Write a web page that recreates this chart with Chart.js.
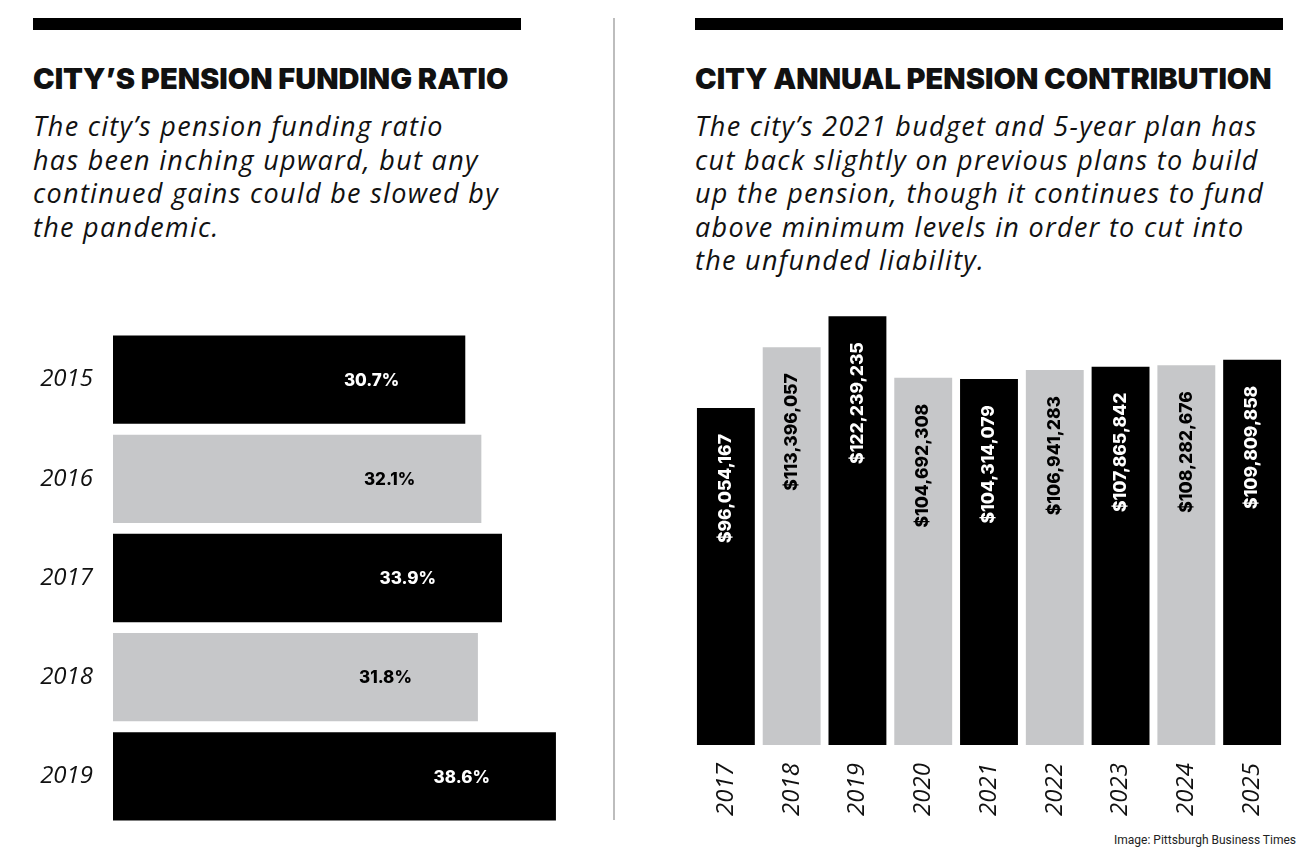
<!DOCTYPE html>
<html>
<head>
<meta charset="utf-8">
<script src="https://cdn.jsdelivr.net/npm/chart.js@4"></script>
<style>
  html, body { margin: 0; padding: 0; background: #fff; }
  body { width: 1300px; height: 852px; position: relative; overflow: hidden; font-family: "Inter", "Roboto", sans-serif; }
  .rule { position: absolute; top: 18px; height: 12px; background: #000; }
  .divider { position: absolute; left: 613px; top: 18px; width: 2px; height: 802px; background: #bdbdbd; }
  .title { position: absolute; top: 61px; font-weight: 900; font-size: 29px; letter-spacing: 0px; color: #111; white-space: nowrap; }
  .sub { position: absolute; top: 109px; font-family: "Open Sans", sans-serif; font-style: italic; font-size: 27px; letter-spacing: 1.3px; line-height: 33.5px; color: #111; white-space: nowrap; }
  .credit { position: absolute; right: 4px; top: 833px; font-family: "Roboto", sans-serif; font-size: 12px; color: #222; }
  canvas { position: absolute; }
</style>
</head>
<body>
<div class="rule" style="left:33px;width:488px"></div>
<div class="rule" style="left:695px;width:588px"></div>
<div class="divider"></div>

<div class="title" style="left:33px">CITY’S PENSION FUNDING RATIO</div>
<div class="sub" style="left:33px">The city’s pension funding ratio<br>has been inching upward, but any<br>continued gains could be slowed by<br>the pandemic.</div>

<div class="title" style="left:695px">CITY ANNUAL PENSION CONTRIBUTION</div>
<div class="sub" style="left:695px">The city’s 2021 budget and 5-year plan has<br>cut back slightly on previous plans to build<br>up the pension, though it continues to fund<br>above minimum levels in order to cut into<br>the unfunded liability.</div>

<div class="credit">Image: Pittsburgh Business Times</div>

<canvas id="ratioChart" style="left:0px;top:330px;width:572px;height:496px" width="572" height="496"></canvas>
<canvas id="contribChart" style="left:693px;top:289px;width:592px;height:540px" width="592" height="540"></canvas>

<script>
// funding ratio (%)
const ratioYears = ["2015", "2016", "2017", "2018", "2019"];
const ratioValues = [30.7, 32.1, 33.9, 31.8, 38.6];

// annual pension contribution ($)
const contribYears = ["2017", "2018", "2019", "2020", "2021", "2022", "2023", "2024", "2025"];
const contribValues = [96054167, 113396057, 122239235, 104692308, 104314079, 106941283, 107865842, 108282676, 109809858];

const BLACK = "#000000";
const GRAY = "#c6c7c9";

function altColors(n) {
    return Array.from({ length: n }, (_, i) => i % 2 === 0 ? BLACK : GRAY);
}

// labels drawn inside the bars
const ratioLabels = {
    id: "ratioLabels",
    afterDatasetsDraw(chart) {
        const ctx = chart.ctx;
        const meta = chart.getDatasetMeta(0);
        ctx.save();
        ctx.font = "800 17px Inter, sans-serif";
        ctx.textAlign = "right";
        ctx.textBaseline = "middle";
        meta.data.forEach((bar, i) => {
            ctx.fillStyle = i % 2 === 0 ? "#fff" : "#000";
            ctx.fillText(ratioValues[i].toFixed(1) + "%", bar.x - 66, bar.y + 1);
        });
        ctx.restore();
    }
};

const contribLabels = {
    id: "contribLabels",
    afterDatasetsDraw(chart) {
        const ctx = chart.ctx;
        const meta = chart.getDatasetMeta(0);
        ctx.save();
        ctx.font = "800 17.5px Inter, sans-serif";
        ctx.textAlign = "right";
        ctx.textBaseline = "middle";
        meta.data.forEach((bar, i) => {
            ctx.save();
            ctx.translate(bar.x, bar.y + 26);
            ctx.rotate(-Math.PI / 2);
            ctx.fillStyle = i % 2 === 0 ? "#fff" : "#000";
            ctx.fillText("$" + contribValues[i].toLocaleString("en-US"), 0, 0);
            ctx.restore();
        });
        ctx.restore();
    }
};

new Chart(document.getElementById("ratioChart"), {
    type: "bar",
    data: {
        labels: ratioYears,
        datasets: [{
            data: ratioValues,
            backgroundColor: altColors(ratioValues.length),
            borderWidth: 0,
            barPercentage: 1,
            categoryPercentage: 0.89
        }]
    },
    options: {
        indexAxis: "y",
        responsive: false,
        animation: false,
        layout: { padding: 0 },
        plugins: { legend: { display: false }, tooltip: { enabled: false } },
        scales: {
            x: { display: false, min: 0, max: 40 },
            y: {
                grid: { display: false },
                border: { display: false },
                ticks: {
                    color: "#111",
                    padding: 12,
                    font: { family: "Open Sans", style: "italic", size: 24 }
                },
                afterFit(scale) {
                    scale.width = 113;
                    scale.paddingTop = 0;
                    scale.paddingBottom = 0;
                }
            }
        }
    },
    plugins: [ratioLabels]
});

new Chart(document.getElementById("contribChart"), {
    type: "bar",
    data: {
        labels: contribYears,
        datasets: [{
            data: contribValues,
            backgroundColor: altColors(contribValues.length),
            borderWidth: 0,
            barPercentage: 1,
            categoryPercentage: 0.88
        }]
    },
    options: {
        responsive: false,
        animation: false,
        layout: { padding: 0 },
        plugins: { legend: { display: false }, tooltip: { enabled: false } },
        scales: {
            y: { display: false, min: 0, max: 130000000 },
            x: {
                grid: { display: false },
                border: { display: false },
                ticks: {
                    color: "#111",
                    padding: 10,
                    minRotation: 90,
                    maxRotation: 90,
                    font: { family: "Open Sans", style: "italic", size: 24 }
                },
                afterFit(scale) {
                    scale.height = 84;
                    scale.paddingLeft = 0;
                    scale.paddingRight = 0;
                }
            }
        }
    },
    plugins: [contribLabels]
});
</script>
</body>
</html>
